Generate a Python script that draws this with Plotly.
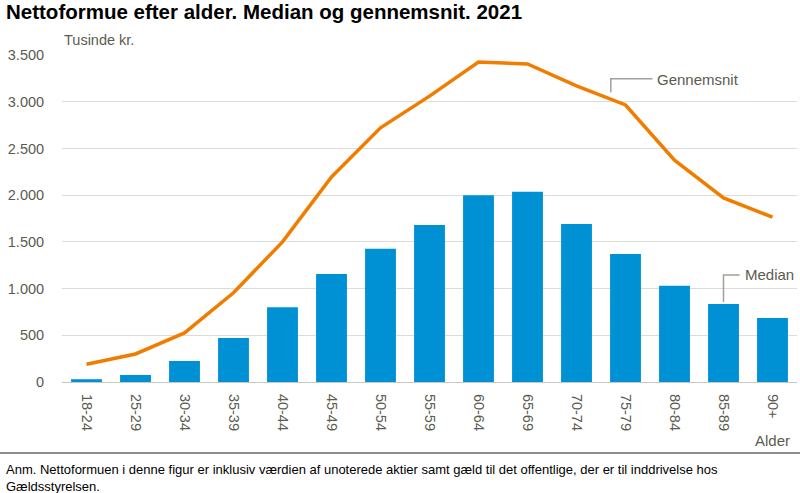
import plotly.graph_objects as go

categories = ["18-24", "25-29", "30-34", "35-39", "40-44", "45-49", "50-54", "55-59",
              "60-64", "65-69", "70-74", "75-79", "80-84", "85-89", "90+"]
median = [30, 75, 225, 470, 800, 1155, 1425, 1680, 2000, 2035, 1690, 1370, 1030, 835, 685]
gennemsnit = [190, 300, 525, 955, 1500, 2195, 2720, 3060, 3425, 3405, 3170, 2965, 2375, 1970, 1765]
y_ticks = [0, 500, 1000, 1500, 2000, 2500, 3000, 3500]
y_ticktext = ["0", "500", "1.000", "1.500", "2.000", "2.500", "3.000", "3.500"]

FONT = "Liberation Sans"
GRAY = "#5b5b4f"
x_idx = list(range(len(categories)))

fig = go.Figure()
fig.add_trace(go.Bar(x=x_idx, y=median, marker=dict(color="#0091d5", line_width=0),
                     width=0.63, name="Median"))
fig.add_trace(go.Scatter(x=x_idx, y=gennemsnit, mode="lines",
                         line=dict(color="#f07d00", width=3.5), name="Gennemsnit"))

fig.update_layout(
    width=800, height=493,
    margin=dict(l=62, r=3, t=55, b=111),
    paper_bgcolor="white", plot_bgcolor="white",
    showlegend=False, bargap=0.37,
    font=dict(family=FONT, color=GRAY, size=14.5),
    xaxis=dict(
        range=[-0.5, len(categories) - 0.5],
        tickmode="array", tickvals=x_idx, ticktext=categories,
        tickangle=90, ticks="outside", ticklen=8, tickcolor="rgba(0,0,0,0)",
        showgrid=False, showline=True, linecolor="#c8c8c0", linewidth=1,
        tickfont=dict(family=FONT, size=14.5, color=GRAY),
        zeroline=False,
    ),
    yaxis=dict(
        range=[0, 3500], tickmode="array", tickvals=y_ticks, ticktext=y_ticktext,
        ticks="outside", ticklen=14, tickcolor="rgba(0,0,0,0)",
        showgrid=True, gridcolor="#dcdcd6", gridwidth=1,
        zeroline=False, showline=False,
        tickfont=dict(family=FONT, size=14.5, color=GRAY),
    ),
)

annotations = [
    dict(text="<b>Nettoformue efter alder. Median og gennemsnit. 2021</b>", xref="paper", yref="paper",
         x=-58/735, y=1 + (55 - 12) / 327, xanchor="left", yanchor="middle", showarrow=False,
         font=dict(family=FONT, size=20.5, color="black")),
    dict(text="Tusinde kr.", xref="paper", yref="paper", x=0, y=1 + (55 - 40) / 327,
         xanchor="left", yanchor="middle", showarrow=False,
         font=dict(family=FONT, size=14.5, color=GRAY)),
    dict(text="Alder", xref="x", yref="paper", x=len(categories) - 1, y=-(440 - 382) / 327,
         xanchor="center", yanchor="middle", showarrow=False,
         font=dict(family=FONT, size=15, color=GRAY)),
    dict(text="Gennemsnit", xref="x", yref="y", x=11.6, y=3240, xanchor="left", yanchor="middle",
         showarrow=False, font=dict(family=FONT, size=15, color=GRAY)),
    dict(text="Median", xref="x", yref="y", x=13.4, y=1150, xanchor="left", yanchor="middle",
         showarrow=False, font=dict(family=FONT, size=15, color=GRAY)),
    dict(text="Anm. Nettoformuen i denne figur er inklusiv værdien af unoterede aktier samt gæld til det offentlige, der er til inddrivelse hos<br>Gældsstyrelsen.",
         xref="paper", yref="paper", x=-58/735, y=-(460 - 382) / 327, xanchor="left", yanchor="top",
         align="left", showarrow=False, font=dict(family=FONT, size=13, color="black")),
]
fig.update_layout(annotations=annotations)

bracket = dict(color="#a0a09a", width=1.5)
fig.add_shape(type="path", xref="x", yref="y",
              path="M 10.7,3100 L 10.7,3245 L 11.55,3245", line=bracket)
fig.add_shape(type="path", xref="x", yref="y",
              path="M 13,855 L 13,1145 L 13.33,1145", line=bracket)
fig.add_shape(type="line", xref="paper", yref="paper", x0=-62/735, x1=1 + 3/735,
              y0=-(453 - 382) / 327, y1=-(453 - 382) / 327,
              line=dict(color="#8a8f8f", width=2))

fig.write_html("out.html")
